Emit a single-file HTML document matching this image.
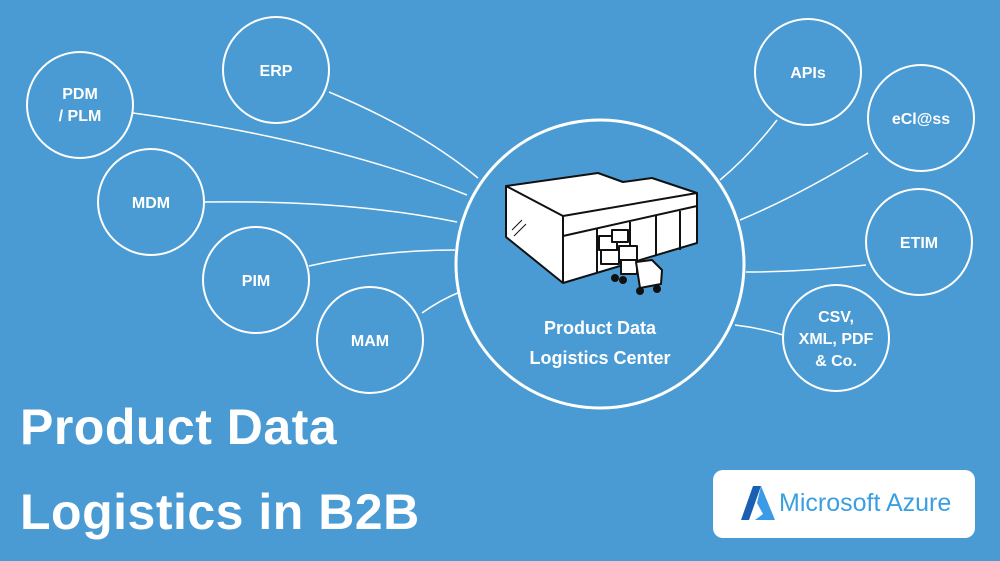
<!DOCTYPE html>
<html><head><meta charset="utf-8"><style>
html,body{margin:0;padding:0}
body{width:1000px;height:561px;background:#4a9bd4;position:relative;overflow:hidden;font-family:"Liberation Sans",sans-serif}
.t{position:absolute;left:20px;color:#fff;font-weight:bold;font-size:50px;letter-spacing:0.5px}
.az{position:absolute;left:713px;top:470px;width:262px;height:68px;background:#fff;border-radius:10px}
</style></head><body>
<svg width="1000" height="561" style="position:absolute;left:0;top:0">
<g fill="none" stroke="#fff" stroke-width="1.5">
<path d="M329,92 Q420,130 478,178"/>
<path d="M133,113 Q330,140 467,195"/>
<path d="M204,202 Q350,200 457,222"/>
<path d="M309,266 Q380,250 455,250"/>
<path d="M422,313 Q440,300 460,292"/>
<path d="M777,120 Q750,155 720,180"/>
<path d="M868,153 Q800,195 740,220"/>
<path d="M866,265 Q800,272 746,272"/>
<path d="M783,335 Q760,328 735,325"/>
</g>
<g fill="none" stroke="#fff" stroke-width="2">
<circle cx="276" cy="70" r="53"/>
<circle cx="80" cy="105" r="53"/>
<circle cx="151" cy="202" r="53"/>
<circle cx="256" cy="280" r="53"/>
<circle cx="370" cy="340" r="53"/>
<circle cx="808" cy="72" r="53"/>
<circle cx="921" cy="118" r="53"/>
<circle cx="919" cy="242" r="53"/>
<circle cx="836" cy="338" r="53"/>
<circle cx="600" cy="264" r="144" stroke-width="3"/>
</g>
<g fill="#fff" font-weight="bold" font-size="16" text-anchor="middle" font-family="Liberation Sans,sans-serif">
<text x="276" y="76">ERP</text>
<text x="80" y="99">PDM</text><text x="80" y="121">/ PLM</text>
<text x="151" y="208">MDM</text>
<text x="256" y="286">PIM</text>
<text x="370" y="346">MAM</text>
<text x="808" y="78">APIs</text>
<text x="921" y="124">eCl@ss</text>
<text x="919" y="248">ETIM</text>
<text x="836" y="322">CSV,</text><text x="836" y="344">XML, PDF</text><text x="836" y="366">&amp; Co.</text>
<text x="600" y="334" font-size="18">Product Data</text>
<text x="600" y="364" font-size="18">Logistics Center</text>
</g>
<g stroke="#111" stroke-width="2" fill="#fff" stroke-linejoin="round">
<path d="M506,186 L598,173 L623,182 L652,178 L697,193 L697,243 L563,283 L506,237 Z"/>
<path d="M506,186 L563,216 L697,193" fill="none"/>
<path d="M563,216 L563,283" fill="none"/>
<path d="M563,236 L697,206" fill="none"/>
<path d="M597,229 L597,272 M630,222 L630,262 M656,216 L656,256 M680,211 L680,250" fill="none"/>
<path d="M512,230 L522,220 M514,236 L526,224" stroke-width="1"/>
<rect x="599" y="236" width="18" height="14"/><rect x="612" y="230" width="16" height="12"/>
<rect x="601" y="250" width="18" height="14"/><rect x="619" y="246" width="18" height="14"/>
<rect x="621" y="260" width="16" height="14"/>
<path d="M636,262 L652,260 L662,270 L661,284 L640,288 Z"/>
<circle cx="615" cy="278" r="3" fill="#111"/><circle cx="623" cy="280" r="3" fill="#111"/>
<circle cx="640" cy="291" r="3" fill="#111"/><circle cx="657" cy="289" r="3" fill="#111"/>
</g>
</svg>
<div class="t" style="top:398px">Product Data</div>
<div class="t" style="top:483px">Logistics in B2B</div>
<div class="az">
<svg width="40" height="40" style="position:absolute;left:28px;top:16px">
<path d="M12,0 L20,0 L8,34 L0,34 Z" fill="#1b5fb3"/>
<path d="M20,0 L34,34 L14,34 L22,28 L16,17 Z" fill="#3c9be6"/>
</svg>
<span style="position:absolute;left:66px;top:19px;font-size:25px;color:#3a9fe0">Microsoft Azure</span></div>
</body></html>
